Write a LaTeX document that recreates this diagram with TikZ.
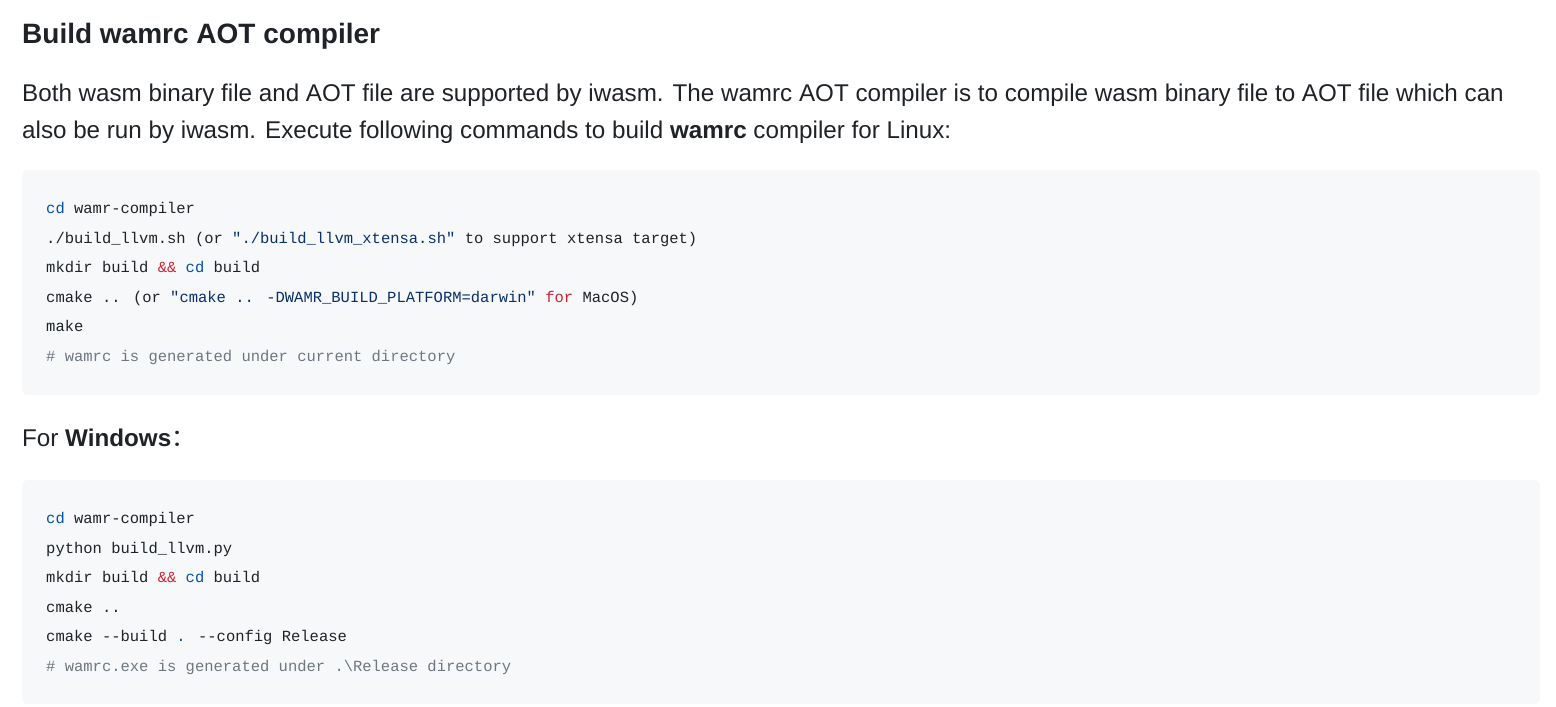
\documentclass[tikz,border=0pt]{standalone}
\usepackage{fontspec}
\setmainfont{Liberation Sans}
\newfontfamily\codefont{Liberation Mono}
\newfontfamily\cjk{Noto Sans CJK SC}
\definecolor{kw}{HTML}{0550AE}
\definecolor{op}{HTML}{CF222E}
\definecolor{str}{HTML}{0A3069}
\definecolor{cm}{HTML}{6E7781}
\definecolor{tx}{HTML}{1F2328}
\definecolor{bg}{HTML}{F6F8FA}
\begin{document}
\begin{tikzpicture}[x=1pt,y=-1pt,
  txt/.style={anchor=base west,inner sep=0pt,text=tx,font=\fontsize{24.2}{28}\selectfont},
  code/.style={anchor=base west,inner sep=0pt,text=tx,font=\codefont\fontsize{15.5}{18}\selectfont},
  cbox/.style={fill=bg,draw=none,rounded corners=6pt}]
\useasboundingbox (0,0) rectangle (1556,707);
\fill[white] (0,0) rectangle (1556,707);
\node[txt,font=\bfseries\fontsize{28}{32}\selectfont] (h) at (22,43) {Build wamrc AOT compiler};
\node[txt] (p1) at (22,101) {Both wasm binary file and AOT file are supported by iwasm. The wamrc AOT compiler is to compile wasm binary file to AOT file which can};
\node[txt] (p2) at (22,138) {also be run by iwasm. Execute following commands to build \textbf{wamrc} compiler for Linux:};
\path[cbox] (22,170) rectangle (1540,395);
\node[code] (a1) at (46,213) {\textcolor{kw}{cd} wamr-compiler};
\node[code] (a2) at (46,243) {./build\_llvm.sh (or \textcolor{str}{"./build\_llvm\_xtensa.sh"} to support xtensa target)};
\node[code] (a3) at (46,272) {mkdir build \textcolor{op}{\&\&} \textcolor{kw}{cd} build};
\node[code] (a4) at (46,302) {cmake .. (or \textcolor{str}{"cmake .. -DWAMR\_BUILD\_PLATFORM=darwin"} \textcolor{op}{for} MacOS)};
\node[code] (a5) at (46,331) {make};
\node[code,text=cm] (a6) at (46,361) {\# wamrc is generated under current directory};
\node[txt] (w) at (22,446) {For \textbf{Windows}{\cjk ：}};
\path[cbox] (22,480) rectangle (1540,704);
\node[code] (b1) at (46,523) {\textcolor{kw}{cd} wamr-compiler};
\node[code] (b2) at (46,553) {python build\_llvm.py};
\node[code] (b3) at (46,582) {mkdir build \textcolor{op}{\&\&} \textcolor{kw}{cd} build};
\node[code] (b4) at (46,612) {cmake ..};
\node[code] (b5) at (46,641) {cmake --build \textcolor{kw}{.} --config Release};
\node[code,text=cm] (b6) at (46,671) {\# wamrc.exe is generated under .\textbackslash Release directory};
\end{tikzpicture}
\end{document}
